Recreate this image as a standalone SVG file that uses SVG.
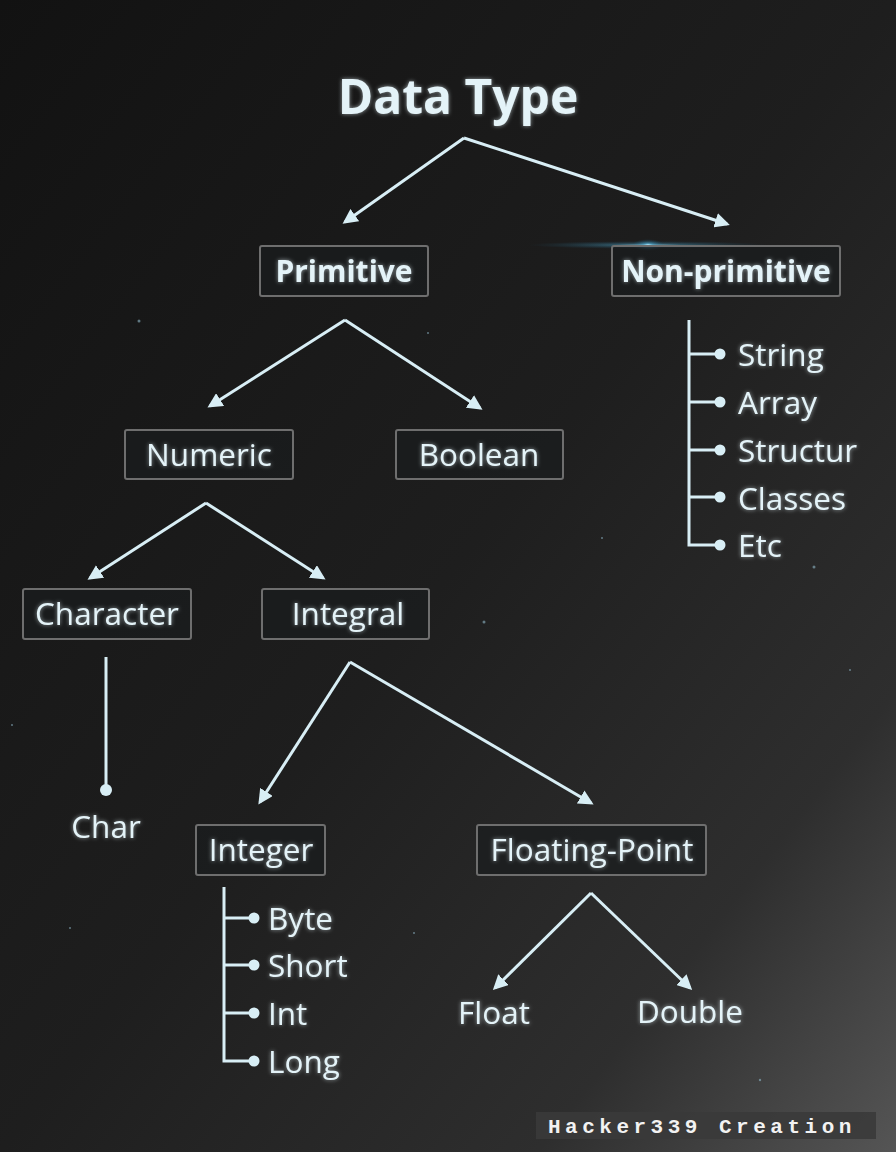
<svg xmlns="http://www.w3.org/2000/svg" width="896" height="1152" viewBox="0 0 896 1152">
<defs>
<linearGradient id="bg" x1="0" y1="0" x2="1" y2="1">
<stop offset="0" stop-color="#121212"/>
<stop offset="0.5" stop-color="#1e1e1e"/>
<stop offset="0.8" stop-color="#2e2e2e"/>
<stop offset="1" stop-color="#555555"/>
</linearGradient>
<radialGradient id="flare" cx="0.5" cy="0.5" r="0.5">
<stop offset="0" stop-color="#bfefff" stop-opacity="1"/>
<stop offset="0.3" stop-color="#4fb6e0" stop-opacity="0.5"/>
<stop offset="1" stop-color="#1b5d80" stop-opacity="0"/>
</radialGradient>
<filter id="glow" x="-20%" y="-40%" width="140%" height="180%">
<feGaussianBlur stdDeviation="2" result="b"/>
<feComponentTransfer in="b" result="c"><feFuncA type="linear" slope="0.6"/></feComponentTransfer>
<feMerge><feMergeNode in="c"/><feMergeNode in="SourceGraphic"/></feMerge>
</filter>
<marker id="ah" viewBox="0 0 10 10" refX="8" refY="5" markerWidth="5" markerHeight="5" orient="auto" markerUnits="strokeWidth">
<path d="M0,0 L10,5 L0,10 z" fill="#d8eef5"/>
</marker>
<style>
.box{fill:#1a1c1e;fill-opacity:0.7;stroke:#6e6e6e;stroke-width:2}
.t{font-family:"Open Sans","Noto Sans",sans-serif;fill:#e4f3f8;text-anchor:middle;filter:url(#glow)}
.b{font-weight:bold;font-size:30px}
.r{font-size:31.5px}
.l{font-family:"Open Sans","Noto Sans",sans-serif;fill:#e4f3f8;font-size:31.5px;filter:url(#glow)}
.ln{stroke:#d8eef5;stroke-width:3;fill:none}
.ar{stroke:#d8eef5;stroke-width:3;fill:none;marker-end:url(#ah)}
.dot{fill:#d8eef5}
.star{fill:#8fb8c8;opacity:0.6}
</style>
</defs>
<rect width="896" height="1152" fill="url(#bg)"/>
<g id="stars">
<circle class="star" cx="139" cy="321" r="1.5"/>
<circle class="star" cx="484" cy="622" r="1.5"/>
<circle class="star" cx="814" cy="567" r="1.5"/>
<circle class="star" cx="602" cy="538" r="1"/>
<circle class="star" cx="428" cy="333" r="1"/>
<circle class="star" cx="70" cy="928" r="1"/>
<circle class="star" cx="414" cy="933" r="1"/>
<circle class="star" cx="850" cy="670" r="1"/>
<circle class="star" cx="760" cy="1080" r="1.2"/>
<circle class="star" cx="12" cy="725" r="1"/>
</g>
<ellipse cx="648" cy="245" rx="120" ry="4" fill="url(#flare)" opacity="0.7"/>
<ellipse cx="648" cy="245" rx="16" ry="6" fill="url(#flare)"/>
<g id="connectors">
<path class="ar" d="M464,138 L345,222"/>
<path class="ar" d="M464,138 L727,224"/>
<path class="ar" d="M345,320 L210,406"/>
<path class="ar" d="M345,320 L480,408"/>
<path class="ar" d="M206,503 L90,578"/>
<path class="ar" d="M206,503 L323,578"/>
<path class="ln" d="M106,657 L106,790"/>
<circle class="dot" cx="106" cy="790" r="6"/>
<path class="ar" d="M350,662 L260,802"/>
<path class="ar" d="M350,662 L591,803"/>
<path class="ar" d="M591,893 L495,988"/>
<path class="ar" d="M591,893 L690,988"/>
<path class="ln" d="M689,320 L689,545 L720,545 M689,354 L720,354 M689,402 L720,402 M689,450 L720,450 M689,497 L720,497"/>
<circle class="dot" cx="720" cy="354" r="5.5"/>
<circle class="dot" cx="720" cy="402" r="5.5"/>
<circle class="dot" cx="720" cy="450" r="5.5"/>
<circle class="dot" cx="720" cy="497" r="5.5"/>
<circle class="dot" cx="720" cy="545" r="5.5"/>
<path class="ln" d="M224,887 L224,1061 L254,1061 M224,918 L254,918 M224,965 L254,965 M224,1013 L254,1013"/>
<circle class="dot" cx="254" cy="918" r="5.5"/>
<circle class="dot" cx="254" cy="965" r="5.5"/>
<circle class="dot" cx="254" cy="1013" r="5.5"/>
<circle class="dot" cx="254" cy="1061" r="5.5"/>
</g>
<g id="title"><text class="t" x="458" y="114" style="font-weight:bold;font-size:48px">Data Type</text></g>
<g id="primitive"><rect class="box" x="260" y="246" width="168" height="50" rx="2"/><text class="t b" x="344" y="282">Primitive</text></g>
<g id="nonprimitive"><rect class="box" x="612" y="246" width="228" height="50" rx="2"/><text class="t b" x="726" y="282">Non-primitive</text></g>
<g id="numeric"><rect class="box" x="125" y="430" width="168" height="49" rx="2"/><text class="t r" x="209" y="466">Numeric</text></g>
<g id="boolean"><rect class="box" x="396" y="430" width="167" height="49" rx="2"/><text class="t r" x="479" y="466">Boolean</text></g>
<g id="character"><rect class="box" x="23" y="589" width="168" height="50" rx="2"/><text class="t r" x="107" y="625">Character</text></g>
<g id="integral"><rect class="box" x="262" y="589" width="167" height="50" rx="2"/><text class="t r" x="348" y="625">Integral</text></g>
<g id="char"><text class="t r" x="106" y="838">Char</text></g>
<g id="integer"><rect class="box" x="196" y="825" width="129" height="50" rx="2"/><text class="t r" x="261" y="861">Integer</text></g>
<g id="floatingpoint"><rect class="box" x="477" y="825" width="229" height="50" rx="2"/><text class="t r" x="592" y="861">Floating-Point</text></g>
<g id="float"><text class="t r" x="494" y="1024">Float</text></g>
<g id="double"><text class="t r" x="690" y="1023">Double</text></g>
<g id="nonprim-list">
<text class="l" x="738" y="366">String</text>
<text class="l" x="738" y="414">Array</text>
<text class="l" x="738" y="462">Structur</text>
<text class="l" x="738" y="510">Classes</text>
<text class="l" x="738" y="557">Etc</text>
</g>
<g id="integer-list">
<text class="l" x="268" y="930">Byte</text>
<text class="l" x="268" y="977">Short</text>
<text class="l" x="268" y="1025">Int</text>
<text class="l" x="268" y="1073">Long</text>
</g>
<g id="watermark">
<rect x="536" y="1112" width="340" height="27" fill="#3a3a3a" opacity="0.9"/>
<text x="548" y="1133" style="font-family:'Liberation Mono',monospace;font-weight:bold;font-size:21px;letter-spacing:4.5px;fill:#f2f2f2">Hacker339 Creation</text>
</g>
</svg>
